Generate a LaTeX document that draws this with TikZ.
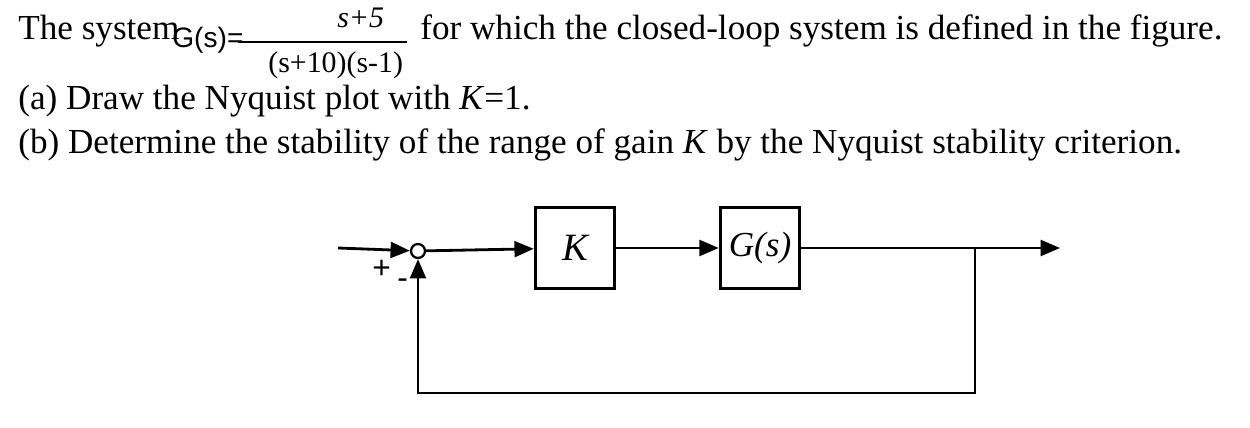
\documentclass[tikz,border=0pt]{standalone}
\usepackage{fontspec}
\setmainfont{Liberation Serif}
\newfontfamily\sansf{Liberation Sans}
\usetikzlibrary{arrows.meta}
\tikzset{
  blk/.style = {shape = rectangle, draw, line width = 1.6pt, minimum width = 80\unitpx, minimum height = 81\unitpx, font = \fontsize{22}{24}\selectfont\itshape},
  txt/.style = {anchor = base west, inner sep = 0pt, font = \fontsize{20}{22}\selectfont},
  sig/.style = {line width = 1.6pt, -{Triangle[length = 11pt, width = 9pt]}},
}
\newcommand{\unitpx}{*0.567pt}
\begin{document}
\begin{tikzpicture}[x = 0.02cm, y = -0.02cm]
  \useasboundingbox (0, 0) rectangle (1250, 428);
  % problem text
  \node (t1) [txt] at (18, 40) {The system};
  \node (g) [txt, font = \sansf\fontsize{16}{18}\selectfont] at (172, 48) {G(s)=};
  \node (num) [txt, font = \fontsize{17}{19}\selectfont\itshape] at (337, 28) {s+5};
  \node (den) [txt, font = \fontsize{17}{19}\selectfont] at (268, 73) {(s+10)(s-1)};
  \draw [line width = 1pt] (238, 42) -- (407, 42);
  \node (t2) [txt] at (420, 40) {for which the closed-loop system is defined in the figure.};
  \node (pa) [txt] at (18, 110) {(a) Draw the Nyquist plot with \textit{K}=1.};
  \node (pb) [txt] at (18, 154) {(b) Determine the stability of the range of gain \textit{K} by the Nyquist stability criterion.};
  % block diagram
  \coordinate (in) at (338, 248);
  \node (sum) [circle, draw, line width = 1.3pt, minimum size = 14\unitpx, inner sep = 0pt] at (418, 251) {};
  \node (k) [blk] at (575, 248) {K};
  \node (gs) [blk, font = \fontsize{20}{22}\selectfont\itshape] at (760, 248) {G(s)};
  \coordinate (br) at (975, 248);
  \coordinate (out) at (1060, 248);
  \coordinate (fb) at (975, 393);
  \coordinate (fbl) at (418, 393);
  \draw [sig] (in) -- (sum);
  \draw [sig] (sum) -- (k);
  \draw [sig] (k) -- (gs);
  \draw [line width = 1.6pt] (gs) -- (br);
  \draw [sig] (br) -- (out);
  \draw [sig] (br) -- (fb) -- (fbl) -- (sum);
  \node (plus) [txt, font = \sansf\fontsize{18}{20}\selectfont] at (372, 279) {+};
  \node (minus) [txt, font = \sansf\fontsize{18}{20}\selectfont] at (397, 289) {-};
\end{tikzpicture}
\end{document}
